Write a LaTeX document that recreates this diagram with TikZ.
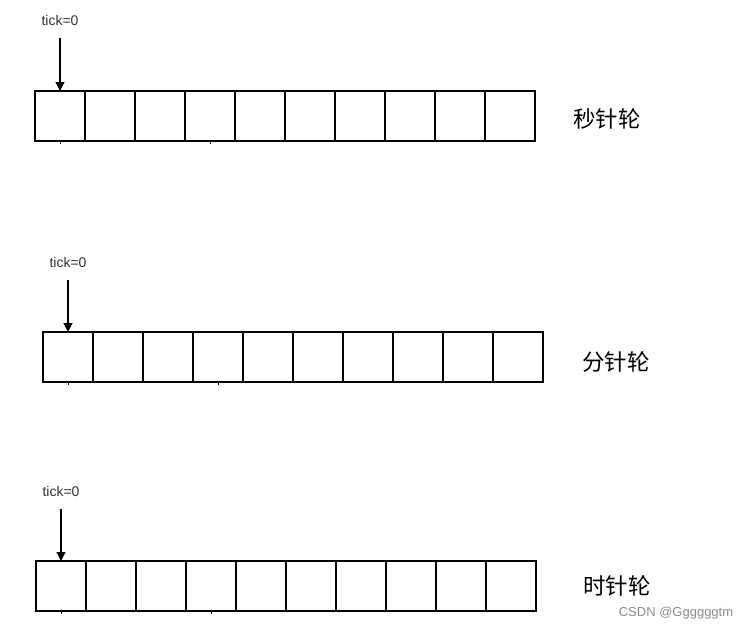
\documentclass[tikz,border=0pt]{standalone}
\usepackage{fontspec}
\setmainfont{Liberation Sans}
\newfontfamily\cjk{Noto Sans CJK SC}
\usetikzlibrary{arrows.meta}
\tikzset{
  cell/.style={draw=black, line width=1.3pt, minimum width=50pt, minimum height=50pt, inner sep=0pt, outer sep=0pt},
  ticklbl/.style={font=\fontsize{14}{15}\selectfont, text=black!80, inner sep=1pt},
  wheel/.style={font=\cjk\fontsize{22.5}{24}\selectfont, inner sep=0pt},
  ptr/.style={line width=1.2pt, -{Triangle[length=9pt,width=9pt]}, shorten <=12pt},
  tickmark/.style={line width=1pt}
}
\begin{document}
\begin{tikzpicture}[x=1pt,y=-1pt]
\useasboundingbox[fill=white] (0,0) rectangle (745,630);
% row 1
\foreach \i in {1,...,10} \node[cell] (a\i) at ({35+25+50*(\i-1)},116) {};
\node[ticklbl] (ta) at (60,20) {tick=0};
\draw[ptr] (ta.south) -- (a1.north);
\node[wheel] (wa) at (607,119) {秒针轮};
\coordinate (ma1) at ([yshift=-3pt]a1.south);
\coordinate (ma4) at ([yshift=-3pt]a4.south);
\draw[tickmark] (a1.south) -- (ma1);
\draw[tickmark] (a4.south) -- (ma4);
% row 2
\foreach \i in {1,...,10} \node[cell] (b\i) at ({43+25+50*(\i-1)},357) {};
\node[ticklbl] (tb) at (68,262) {tick=0};
\draw[ptr] (tb.south) -- (b1.north);
\node[wheel] (wb) at (616,362) {分针轮};
\coordinate (mb1) at ([yshift=-3pt]b1.south);
\coordinate (mb4) at ([yshift=-3pt]b4.south);
\draw[tickmark] (b1.south) -- (mb1);
\draw[tickmark] (b4.south) -- (mb4);
% row 3
\foreach \i in {1,...,10} \node[cell] (c\i) at ({36+25+50*(\i-1)},586) {};
\node[ticklbl] (tc) at (61,491) {tick=0};
\draw[ptr] (tc.south) -- (c1.north);
\node[wheel] (wc) at (617,586) {时针轮};
\coordinate (mc1) at ([yshift=-3pt]c1.south);
\coordinate (mc4) at ([yshift=-3pt]c4.south);
\draw[tickmark] (c1.south) -- (mc1);
\draw[tickmark] (c4.south) -- (mc4);
% watermark
\node[font=\fontsize{13}{14}\selectfont, text=black!45, inner sep=0pt] (wm) at (676,613) {CSDN @Ggggggtm};
\end{tikzpicture}
\end{document}
